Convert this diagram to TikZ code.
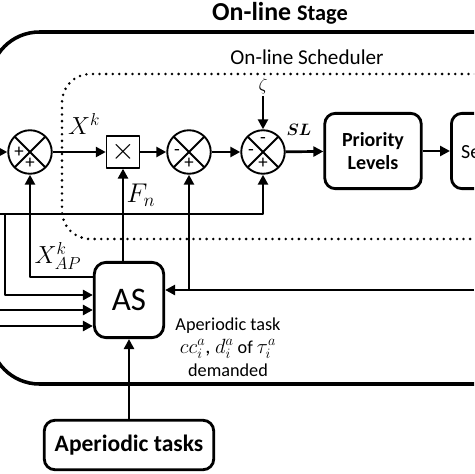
\RequirePackage{fix-cm}
\documentclass[tikz,border=0pt]{standalone}
\usepackage{fontspec}
\setmainfont{Carlito}
\usepackage{bm}
\usetikzlibrary{arrows.meta,positioning}

\tikzset{
  conn/.style={line width=2.3pt,-{Triangle[length=8.5pt,width=8.5pt]}},
  dotline/.style={line width=2.4pt,line cap=round,dash pattern=on 0pt off 5.6pt},
  sumnode/.style={circle,draw,line width=1.6pt,minimum size=37pt,inner sep=0pt,
    path picture={\draw[line width=1.6pt]
      (path picture bounding box.north west)--(path picture bounding box.south east)
      (path picture bounding box.north east)--(path picture bounding box.south west);}},
  blockbox/.style={draw,line width=2.4pt,rounded corners=9pt,align=center,inner sep=0pt},
  sign/.style={font=\fontsize{16}{16}\selectfont,inner sep=0pt},
  mlabel/.style={font=\fontsize{21}{21}\selectfont,inner sep=0pt},
}

\begin{document}
\begin{tikzpicture}[x=0.85pt,y=-0.85pt,line join=round]
\clip (0,0) rectangle (474,474);
% frames
\draw[line width=3pt,rounded corners=42pt] (620,32) -- (-10,32) -- (-10,384) -- (620,384);
\node[font=\bfseries\fontsize{22}{22}\selectfont] (stage) at (280,13) {On-line {\fontsize{19}{19}\selectfont Stage}};
\draw[dotline,rounded corners=24pt] (620,74) -- (62,74) -- (62,239) -- (620,239);
\node[font=\fontsize{18}{18}\selectfont] (sched) at (307,57) {On-line Scheduler};

% blocks
\node[sumnode] (s1) at (30,152) {};
\node[draw,line width=1.3pt,minimum width=28pt,minimum height=27pt,inner sep=0pt,
  font=\fontsize{26}{26}\selectfont] (mul) at (123,152) {$\times$};
\node[sumnode] (s2) at (189,152) {};
\node[sumnode] (s3) at (263,152) {};
\node[blockbox,minimum width=82pt,minimum height=64pt,
  font=\bfseries\fontsize{17}{20}\selectfont] (prio) at (373,151) {Priority\\Levels};
\node[blockbox,minimum width=82pt,minimum height=64pt,anchor=west] (sel) at (450,151) {};
\node[font=\fontsize{17}{17}\selectfont,anchor=west] (seltext) at (457,152) {Se};
\node[blockbox,rounded corners=10pt,minimum width=59pt,minimum height=64pt,
  font=\fontsize{28}{28}\selectfont] (as) at (129,300) {AS};
\node[blockbox,minimum width=144pt,minimum height=42pt,
  font=\bfseries\fontsize{20}{20}\selectfont] (aper) at (129,445) {Aperiodic tasks};

% signs
\foreach \s/\dx/\dy/\t in {s1/-11/0/+,s1/0/11/+,s2/-12/0/-,s2/0/11/+,s3/0/-12/-,s3/-12/0/-,s3/0/11/+}
  \path (\s) +(\dx,\dy) node[sign] {\t};

% labels
\node[mlabel] (xk) at (84,124) {$X^k$};
\node[mlabel,font=\fontsize{23}{23}\selectfont] (fn) at (141,195) {$F_n$};
\node[mlabel] (xap) at (58,256) {$X^k_{AP}$};
\node[font=\fontsize{15}{15}\selectfont,inner sep=0pt] (zeta) at (263,86) {$\zeta$};
\node[font=\fontsize{14}{14}\selectfont] (sl) at (299,130) {$\bm{SL}$};
\node[font=\fontsize{15.5}{19.5}\selectfont,align=center] (apertxt) at (228,347)
  {Aperiodic task\\{\fontsize{17.5}{19.5}\selectfont$cc_i^a$, $d_i^a$} of {\fontsize{17.5}{19.5}\selectfont$\tau_i^a$}\\demanded};

% free ends
\coordinate (in1) at (0,152);
\coordinate (fbL) at (0,214);
\coordinate (fbB) at (5,214);
\coordinate (br) at (5,295);
\coordinate (in2) at (0,310);
\coordinate (in3) at (0,326);
\coordinate (fbR) at (474,290);
\coordinate (xapc) at (30,277);

% connectors
\draw[conn] (in1) -- (s1);
\draw[conn] (s1) -- (mul);
\draw[conn] (mul) -- (s2);
\draw[conn] (s2) -- (s3);
\draw[conn] (s3) -- (prio);
\draw[conn] (prio) -- (sel);
\draw[conn,shorten <=2pt] (zeta) -- (s3);
\draw[conn] (fbL) -| (s3.south);
\draw[conn] (fbB) -- (br) -- (br -| as.west);
\draw[conn] (in2) -- (in2 -| as.west);
\draw[conn] (in3) -- (in3 -| as.west);
\draw[conn] (xapc -| as.west) -- (xapc) -- (s1.south);
\draw[conn] (as.north -| mul) -- (mul.south);
\draw[conn] (fbR) -- (fbR -| as.east);
\draw[conn] (s2 |- fbR) -- (s2.south);
\draw[conn] (aper) -- (as);
\end{tikzpicture}
\end{document}
